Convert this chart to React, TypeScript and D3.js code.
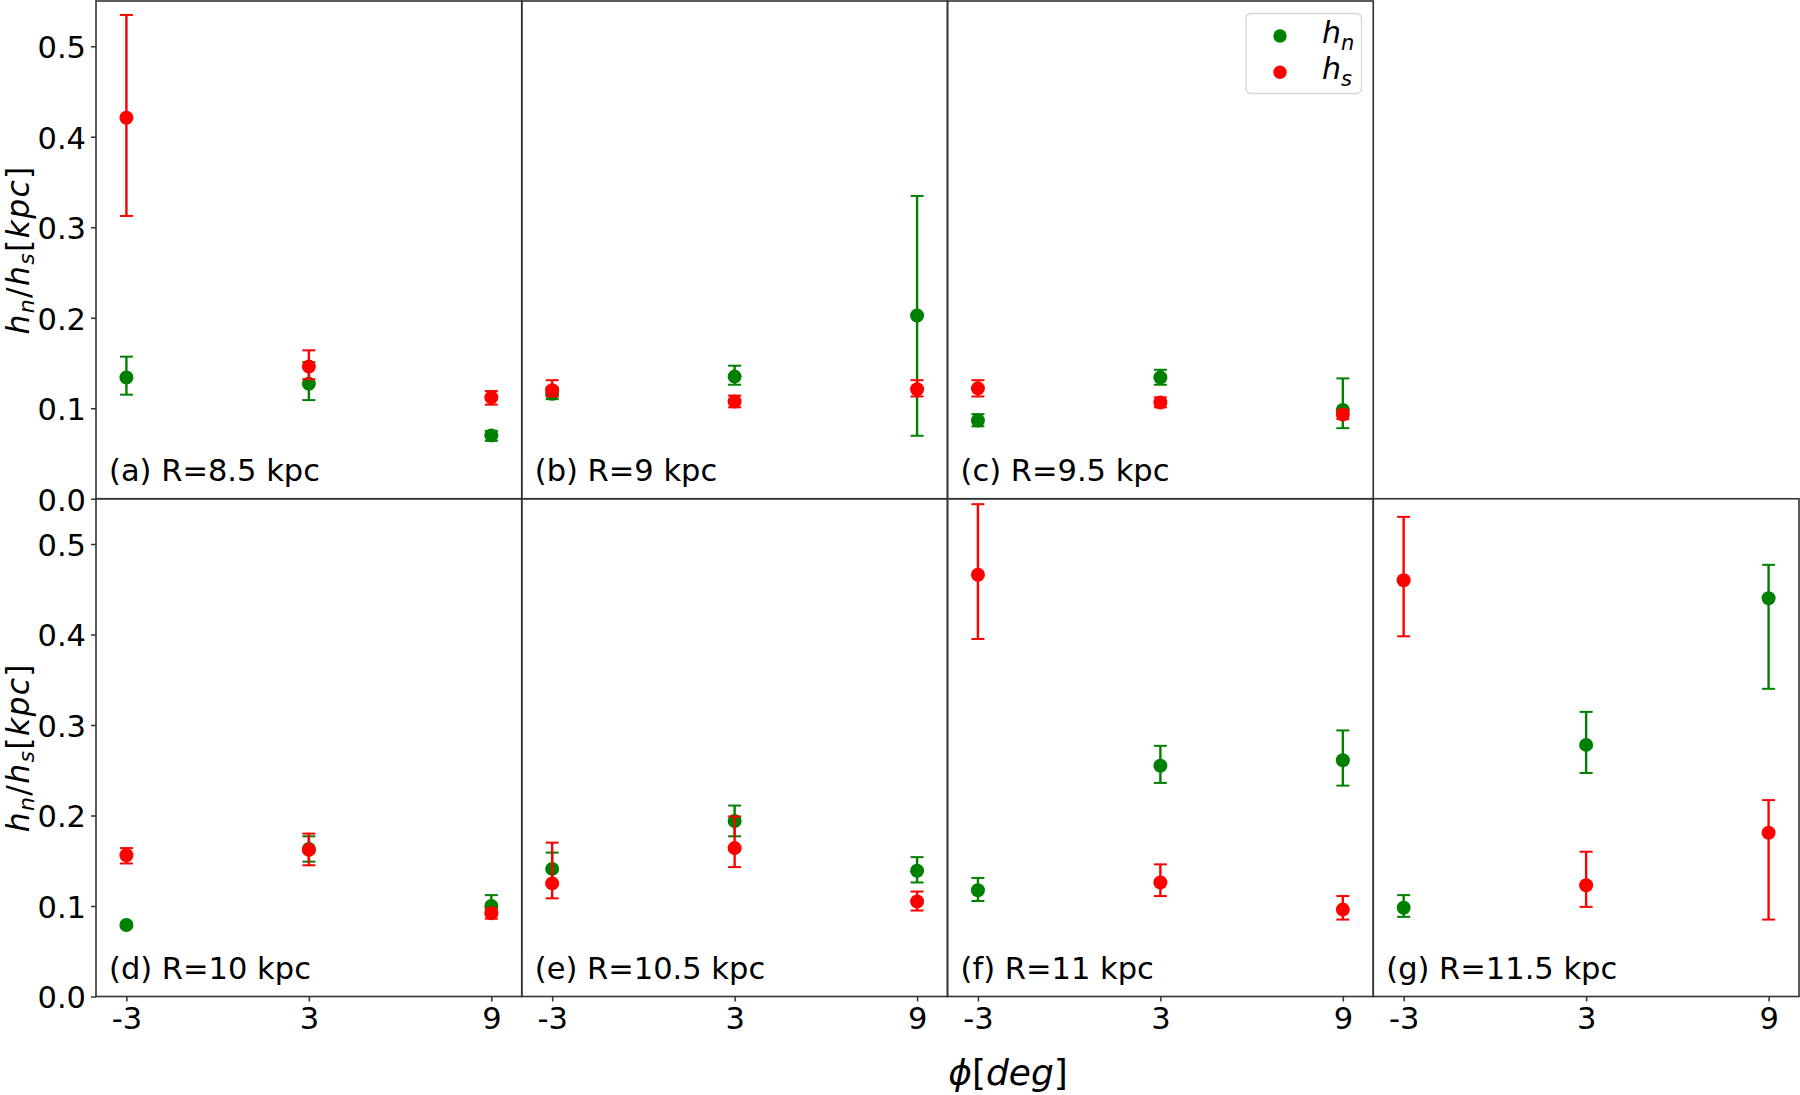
import React, { useEffect, useRef } from "react";
import * as d3 from "d3";

// azimuth bins (deg)
const phiTicks = [-3, 3, 9];
const heightTicks = [0, 0.1, 0.2, 0.3, 0.4, 0.5];

const panelLabels = [
  "(a) R=8.5 kpc",
  "(b) R=9 kpc",
  "(c) R=9.5 kpc",
  "(d) R=10 kpc",
  "(e) R=10.5 kpc",
  "(f) R=11 kpc",
  "(g) R=11.5 kpc",
];

// h_n (north scale height), one row per panel, columns = phi -3, 3, 9
const hnValues = [
  [0.134, 0.127, 0.07],
  [0.116, 0.135, 0.2025],
  [0.0865, 0.134, 0.098],
  [0.079, 0.163, 0.1],
  [0.141, 0.194, 0.139],
  [0.1174, 0.255, 0.261],
  [0.098, 0.278, 0.44],
];
const hnLower = [
  [0.115, 0.109, 0.064],
  [0.11, 0.126, 0.0696],
  [0.08, 0.126, 0.078],
  [0.077, 0.149, 0.091],
  [0.123, 0.177, 0.126],
  [0.1055, 0.236, 0.233],
  [0.088, 0.247, 0.34],
];
const hnUpper = [
  [0.157, 0.151, 0.075],
  [0.123, 0.147, 0.3346],
  [0.0935, 0.1425, 0.133],
  [0.081, 0.177, 0.112],
  [0.159, 0.211, 0.154],
  [0.131, 0.277, 0.294],
  [0.112, 0.3145, 0.477],
];

// h_s (south scale height)
const hsValues = [
  [0.421, 0.146, 0.112],
  [0.12, 0.1075, 0.121],
  [0.122, 0.1064, 0.093],
  [0.156, 0.162, 0.092],
  [0.125, 0.164, 0.105],
  [0.466, 0.126, 0.096],
  [0.46, 0.123, 0.181],
];
const hsLower = [
  [0.3125, 0.132, 0.104],
  [0.113, 0.101, 0.113],
  [0.113, 0.101, 0.088],
  [0.147, 0.145, 0.086],
  [0.1085, 0.143, 0.095],
  [0.395, 0.111, 0.085],
  [0.398, 0.099, 0.085],
];
const hsUpper = [
  [0.5346, 0.164, 0.119],
  [0.131, 0.114, 0.131],
  [0.131, 0.112, 0.098],
  [0.164, 0.18, 0.097],
  [0.17, 0.199, 0.116],
  [0.544, 0.146, 0.111],
  [0.53, 0.16, 0.217],
];

const FONT = "DejaVu Sans, Verdana, sans-serif";

type Piece = { t: string; it?: boolean; sub?: boolean };

// mathtext-like label: italic letters, upright brackets, shrunken subscripts
function appendMath(
  sel: d3.Selection<SVGTextElement, unknown, null, undefined>,
  pieces: Piece[],
  size: number,
  dropRatio = 0.22
) {
  let shifted = false;
  const drop = size * dropRatio;
  pieces.forEach((p) => {
    const ts = sel.append("tspan").text(p.t);
    ts.attr("font-style", p.it ? "italic" : "normal");
    if (p.sub) {
      ts.attr("font-size", size * 0.7);
      if (!shifted) ts.attr("dy", drop);
      shifted = true;
    } else {
      ts.attr("font-size", size);
      if (shifted) ts.attr("dy", -drop);
      shifted = false;
    }
  });
}

const App: React.FC = () => {
  const svgRef = useRef<SVGSVGElement>(null);

  useEffect(() => {
    if (!svgRef.current) return;
    const svg = d3.select(svgRef.current);
    svg.selectAll("*").remove();

    const left = 96;
    const top = 1;
    const panelW = 425.75;
    const panelH = 497.75;
    const tickFont = 30.5;

    panelLabels.forEach((label, i) => {
      const row = i < 3 ? 0 : 1;
      const col = i < 3 ? i : i - 3;
      const x0 = left + col * panelW;
      const y0 = top + row * panelH;

      const x = d3.scaleLinear().domain([-4, 10]).range([x0, x0 + panelW]);
      const y = d3.scaleLinear().domain([0, 0.55]).range([y0 + panelH, y0]);

      const g = svg.append("g");

      const series = [
        { v: hnValues[i], lo: hnLower[i], hi: hnUpper[i], color: "green" },
        { v: hsValues[i], lo: hsLower[i], hi: hsUpper[i], color: "red" },
      ];

      series.forEach((s) => {
        const pts = phiTicks.map((phi, j) => ({
          phi,
          v: s.v[j],
          lo: s.lo[j],
          hi: s.hi[j],
        }));
        const sg = g.append("g");

        sg.selectAll(".bar")
          .data(pts)
          .enter()
          .append("line")
          .attr("x1", (d) => x(d.phi))
          .attr("x2", (d) => x(d.phi))
          .attr("y1", (d) => y(d.lo))
          .attr("y2", (d) => y(d.hi))
          .attr("stroke", s.color)
          .attr("stroke-width", 2.4);

        const caps = pts.flatMap((d) => [
          { phi: d.phi, e: d.lo },
          { phi: d.phi, e: d.hi },
        ]);
        sg.selectAll(".cap")
          .data(caps)
          .enter()
          .append("line")
          .attr("x1", (d) => x(d.phi) - 6.5)
          .attr("x2", (d) => x(d.phi) + 6.5)
          .attr("y1", (d) => y(d.e))
          .attr("y2", (d) => y(d.e))
          .attr("stroke", s.color)
          .attr("stroke-width", 2);

        sg.selectAll("circle")
          .data(pts)
          .enter()
          .append("circle")
          .attr("cx", (d) => x(d.phi))
          .attr("cy", (d) => y(d.v))
          .attr("r", 7)
          .attr("fill", s.color);
      });

      g.append("rect")
        .attr("x", x0)
        .attr("y", y0)
        .attr("width", panelW)
        .attr("height", panelH)
        .attr("fill", "none")
        .attr("stroke", "#333")
        .attr("stroke-width", 1.6);

      if (col === 0) {
        const ax = g
          .append("g")
          .attr("transform", `translate(${x0},0)`)
          .call(
            d3
              .axisLeft(y)
              .tickValues(heightTicks)
              .tickFormat(d3.format(".1f"))
              .tickSize(5)
              .tickPadding(5)
          );
        ax.select(".domain").remove();
        ax.selectAll("line").attr("stroke", "#333").attr("stroke-width", 1.5);
        ax.selectAll("text")
          .attr("dy", "0.37em")
          .attr("fill", "#000")
          .style("font-family", FONT)
          .style("font-size", `${tickFont}px`);
      }

      if (row === 1) {
        const ax = g
          .append("g")
          .attr("transform", `translate(0,${y0 + panelH})`)
          .call(
            d3
              .axisBottom(x)
              .tickValues(phiTicks)
              .tickFormat((d) => String(d))
              .tickSize(5)
              .tickPadding(6)
          );
        ax.select(".domain").remove();
        ax.selectAll("line").attr("stroke", "#333").attr("stroke-width", 1.5);
        ax.selectAll("text")
          .attr("fill", "#000")
          .style("font-family", FONT)
          .style("font-size", `${tickFont}px`);
      }

      g.append("text")
        .attr("x", x0 + 13)
        .attr("y", y0 + panelH - 18)
        .attr("fill", "#000")
        .style("font-family", FONT)
        .style("font-size", `${tickFont}px`)
        .text(label);

      // y label on each row
      if (col === 0) {
        const yl = g
          .append("text")
          .attr("transform", `translate(29,${y0 + panelH / 2}) rotate(-90)`)
          .attr("text-anchor", "middle")
          .attr("fill", "#000")
          .style("letter-spacing", "1.3px")
          .style("font-family", FONT);
        appendMath(
          yl,
          [
            { t: "h", it: true },
            { t: "n", it: true, sub: true },
            { t: "/" },
            { t: "h", it: true },
            { t: "s", it: true, sub: true },
            { t: "[" },
            { t: "kpc", it: true },
            { t: "]" },
          ],
          31.5,
          0.16
        );
      }

      // legend sits in panel (c)
      if (i === 2) {
        const lg = g.append("g");
        lg.append("rect")
          .attr("x", 1246)
          .attr("y", 13.5)
          .attr("width", 115.5)
          .attr("height", 80)
          .attr("rx", 5)
          .attr("fill", "#fff")
          .attr("fill-opacity", 0.8)
          .attr("stroke", "#d6d6d6")
          .attr("stroke-width", 1.3);
        const entries = [
          { color: "green", sub: "n", cy: 36 },
          { color: "red", sub: "s", cy: 72.3 },
        ];
        entries.forEach((e) => {
          lg.append("circle")
            .attr("cx", 1280)
            .attr("cy", e.cy)
            .attr("r", 6.7)
            .attr("fill", e.color);
          const t = lg
            .append("text")
            .attr("x", 1322)
            .attr("y", e.cy + 7)
            .attr("fill", "#000")
            .style("font-family", FONT);
          appendMath(
            t,
            [
              { t: "h", it: true },
              { t: e.sub, it: true, sub: true },
            ],
            30
          );
        });
      }
    });

    // shared x label
    const xl = svg
      .append("text")
      .attr("x", 1008)
      .attr("y", 1085)
      .attr("text-anchor", "middle")
      .attr("fill", "#000")
      .style("font-family", FONT);
    appendMath(
      xl,
      [
        { t: "ϕ", it: true },
        { t: "[" },
        { t: "deg", it: true },
        { t: "]" },
      ],
      36
    );
  }, []);

  return (
    <svg
      ref={svgRef}
      width={1800}
      height={1095}
      style={{ position: "absolute", left: 0, top: 0, background: "#fff" }}
    />
  );
};

export default App;
